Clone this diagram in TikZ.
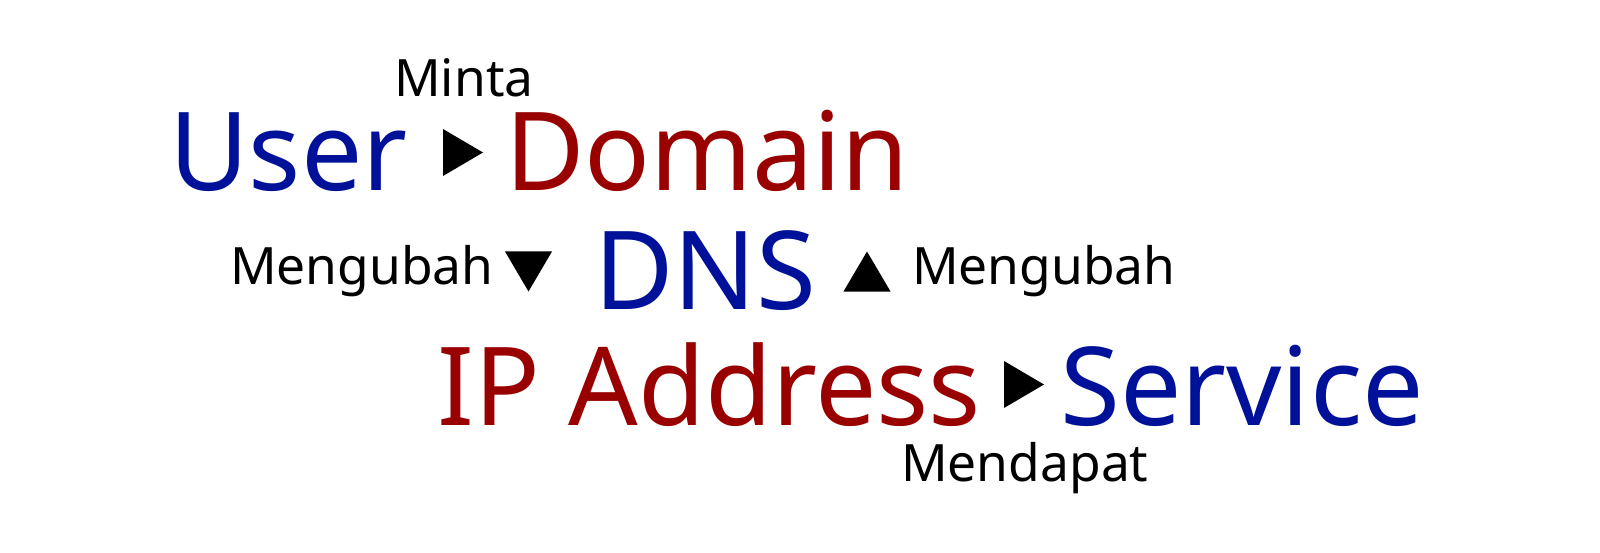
\documentclass[tikz,border=0pt]{standalone}
\usepackage{fontspec}
\setmainfont{Noto Sans}
\usepackage{tikz}
\definecolor{usrblue}{RGB}{0,17,153}
\definecolor{domred}{RGB}{153,0,0}

\begin{document}
\begin{tikzpicture}[x=1pt,y=-1pt,
		big/.style={inner sep=0pt,anchor=base west,font=\fontsize{109}{109}\selectfont},
		small/.style={inner sep=0pt,anchor=base west,font=\fontsize{51.5}{51.5}\selectfont}]
		% page: 1600 x 553, y grows downwards
		\useasboundingbox (0,0) rectangle (1600,553);
		\node[small] (minta) at (394,97) {Minta};
		\node[big,text=usrblue] (user) at (169,191) {User};
		\node[big,text=domred] (domain) at (505,191) {Domain};
		\node[small] (ubahkiri) at (230,284) {Mengubah};
		\node[big,text=usrblue] (dns) at (594,309) {DNS};
		\node[small] (ubahkanan) at (912,284) {Mengubah};
		\node[big,text=domred] (ip) at (437,425) {IP Address};
		\node[big,text=usrblue] (service) at (1060,425) {Service};
		\node[small] (dapat) at (901,481) {Mendapat};
		% triangles: centre x / centre y / turn
		\foreach \cx/\cy/\r in {463/152.5/0,528.5/271.5/-90,867/271.5/90,1024/384.5/0}{
			\fill[shift={(\cx,\cy)},rotate=\r] (-20,-23.5) -- (20,0) -- (-20,23.5) -- cycle;
		}
	\end{tikzpicture}
\end{document}
